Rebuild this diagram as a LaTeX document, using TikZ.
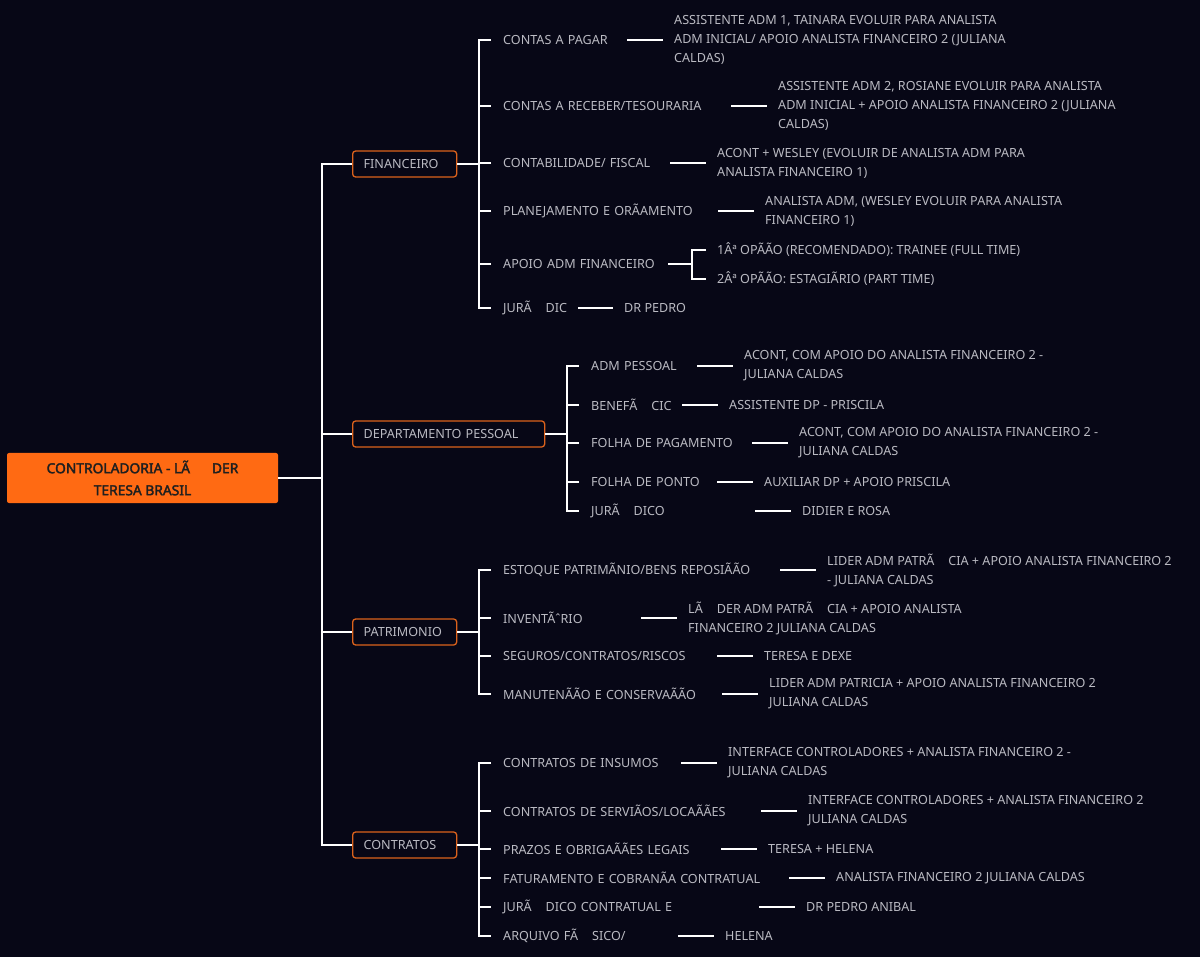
\documentclass[tikz,border=0pt]{standalone}
\usepackage{fontspec}
\setmainfont{Noto Sans}
\newfontfamily\rootfont{Noto Sans}[FakeBold=2.4]
\definecolor{bg}{HTML}{070716}
\definecolor{txt}{HTML}{BABAC2}
\definecolor{rootfill}{HTML}{FF6A13}
\definecolor{branchline}{HTML}{DC621C}
\newcommand{\gapx}{\hspace{14pt}}

\tikzset{
  link/.style={white, line width=2pt},
  rootbox/.style={fill=rootfill, rounded corners=2pt, minimum width=271pt,
    minimum height=50pt, align=center, text=black!88,
    font=\fontsize{13.8}{22}\rootfont},
  branch/.style={draw=branchline, line width=1.3pt, rounded corners=3pt,
    fill=bg, text=txt, anchor=west, inner xsep=11pt, minimum height=26pt,
    text width=#1, align=left, font=\fontsize{12.6}{19}\selectfont},
  branch/.default=82pt,
  sub/.style={anchor=west, inner xsep=12pt, inner ysep=1pt, text=txt,
    text width=#1, align=left, font=\fontsize{12.6}{19}\selectfont,
    execute at begin node=\hbox\bgroup, execute at end node=\egroup},
  leaf/.style={anchor=west, inner xsep=11pt, inner ysep=1pt, text=txt,
    align=left, font=\fontsize{12.6}{19}\selectfont},
}

\begin{document}
\begin{tikzpicture}[x=1pt, y=-1pt]
    \fill[bg] (0,0) rectangle (1200,957);
    \useasboundingbox (0,0) rectangle (1200,957);

    % root and the four branches
    \node[rootbox] (root) at (142.5,478) {CONTROLADORIA - LÃ\hspace{22pt}DER\\TERESA BRASIL};
    \node[branch] (fin) at (352,164) {FINANCEIRO};
    \node[branch=170pt] (dp) at (352,434) {DEPARTAMENTO PESSOAL};
    \node[branch] (pat) at (352,632) {PATRIMONIO};
    \node[branch] (con) at (352,845) {CONTRATOS};

    \draw[link] (root.east) -- ++(44,0) coordinate (trunk);
    \foreach \b in {fin,dp,pat,con}
        \draw[link] (\b.west) -| (trunk);

    % financeiro
    \draw[link] (fin.east) -- ++(22,0) coordinate (finhub);
    \node[sub=112pt] (f1) at (491,40) {CONTAS A PAGAR};
    \node[sub=216pt] (f2) at (491,106) {CONTAS A RECEBER/TESOURARIA};
    \node[sub=155pt] (f3) at (491,163) {CONTABILIDADE/ FISCAL};
    \node[sub=203pt] (f4) at (491,211) {PLANEJAMENTO E ORÃAMENTO};
    \node[sub=153pt] (f5) at (491,264) {APOIO ADM FINANCEIRO};
    \node[sub=63pt] (f6) at (491,308) {JURÃ\gapx DIC};
    \foreach \c in {f1,f2,f3,f4,f5,f6}
        \draw[link] (\c.west) -| (finhub);

    \node[leaf] (fl1) at (663,40) {ASSISTENTE ADM 1, TAINARA EVOLUIR PARA ANALISTA\\ADM INICIAL/ APOIO ANALISTA FINANCEIRO 2 (JULIANA\\CALDAS)};
    \node[leaf] (fl2) at (767,106) {ASSISTENTE ADM 2, ROSIANE EVOLUIR PARA ANALISTA\\ADM INICIAL + APOIO ANALISTA FINANCEIRO 2 (JULIANA\\CALDAS)};
    \node[leaf] (fl3) at (706,163) {ACONT + WESLEY (EVOLUIR DE ANALISTA ADM PARA\\ANALISTA FINANCEIRO 1)};
    \node[leaf] (fl4) at (754,211) {ANALISTA ADM, (WESLEY EVOLUIR PARA ANALISTA\\FINANCEIRO 1)};
    \node[leaf] (op1) at (706,250) {1Âª OPÃÃO (RECOMENDADO): TRAINEE (FULL TIME)};
    \node[leaf] (op2) at (706,279) {2Âª OPÃÃO: ESTAGIÃRIO (PART TIME)};
    \node[leaf] (fl6) at (613,308) {DR PEDRO};
    \draw[link] (f1.east) -- (fl1.west);
    \draw[link] (f2.east) -- (fl2.west);
    \draw[link] (f3.east) -- (fl3.west);
    \draw[link] (f4.east) -- (fl4.west);
    \draw[link] (f6.east) -- (fl6.west);
    \draw[link] (f5.east) -- ++(24,0) coordinate (apoiohub);
    \draw[link] (op1.west) -| (apoiohub);
    \draw[link] (op2.west) -| (apoiohub);

    % departamento pessoal
    \draw[link] (dp.east) -- ++(22,0) coordinate (dphub);
    \node[sub=94pt] (d1) at (579,366) {ADM PESSOAL};
    \node[sub=79pt] (d2) at (579,405) {BENEFÃ\gapx CIC};
    \node[sub=149pt] (d3) at (579,443) {FOLHA DE PAGAMENTO};
    \node[sub=114pt] (d4) at (579,482) {FOLHA DE PONTO};
    \node[sub=152pt] (d5) at (579,511) {JURÃ\gapx DICO};
    \foreach \c in {d1,d2,d3,d4,d5}
        \draw[link] (\c.west) -| (dphub);

    \node[leaf] (dl1) at (733,366) {ACONT, COM APOIO DO ANALISTA FINANCEIRO 2 -\\JULIANA CALDAS};
    \node[leaf] (dl2) at (718,405) {ASSISTENTE DP - PRISCILA};
    \node[leaf] (dl3) at (788,443) {ACONT, COM APOIO DO ANALISTA FINANCEIRO 2 -\\JULIANA CALDAS};
    \node[leaf] (dl4) at (753,482) {AUXILIAR DP + APOIO PRISCILA};
    \node[leaf] (dl5) at (791,511) {DIDIER E ROSA};
    \foreach \i in {1,...,5}
        \draw[link] (d\i.east) -- (dl\i.west);

    % patrimonio
    \draw[link] (pat.east) -- ++(22,0) coordinate (pathub);
    \node[sub=265pt] (p1) at (491,570) {ESTOQUE PATRIMÃNIO/BENS REPOSIÃÃO};
    \node[sub=126pt] (p2) at (491,618) {INVENTÃˆRIO};
    \node[sub=202pt] (p3) at (491,656) {SEGUROS/CONTRATOS/RISCOS};
    \node[sub=207pt] (p4) at (491,694) {MANUTENÃÃO E CONSERVAÃÃO};
    \foreach \c in {p1,p2,p3,p4}
        \draw[link] (\c.west) -| (pathub);

    \node[leaf] (pl1) at (816,570) {LIDER ADM PATRÃ\gapx CIA + APOIO ANALISTA FINANCEIRO 2\\- JULIANA CALDAS};
    \node[leaf] (pl2) at (677,618) {LÃ\gapx DER ADM PATRÃ\gapx CIA + APOIO ANALISTA\\FINANCEIRO 2 JULIANA CALDAS};
    \node[leaf] (pl3) at (753,656) {TERESA E DEXE};
    \node[leaf] (pl4) at (758,694) {LIDER ADM PATRICIA + APOIO ANALISTA FINANCEIRO 2\\JULIANA CALDAS};
    \foreach \i in {1,...,4}
        \draw[link] (p\i.east) -- (pl\i.west);

    % contratos
    \draw[link] (con.east) -- ++(22,0) coordinate (conhub);
    \node[sub=166pt] (c1) at (491,763) {CONTRATOS DE INSUMOS};
    \node[sub=246pt] (c2) at (491,811) {CONTRATOS DE SERVIÃOS/LOCAÃÃES};
    \node[sub=206pt] (c3) at (491,849) {PRAZOS E OBRIGAÃÃES LEGAIS};
    \node[sub=274pt] (c4) at (491,878) {FATURAMENTO E COBRANÃA CONTRATUAL};
    \node[sub=244pt] (c5) at (491,907) {JURÃ\gapx DICO CONTRATUAL E};
    \node[sub=163pt] (c6) at (491,936) {ARQUIVO FÃ\gapx SICO/};
    \foreach \c in {c1,c2,c3,c4,c5,c6}
        \draw[link] (\c.west) -| (conhub);

    \node[leaf] (cl1) at (717,763) {INTERFACE CONTROLADORES + ANALISTA FINANCEIRO 2 -\\JULIANA CALDAS};
    \node[leaf] (cl2) at (797,811) {INTERFACE CONTROLADORES + ANALISTA FINANCEIRO 2\\JULIANA CALDAS};
    \node[leaf] (cl3) at (757,849) {TERESA + HELENA};
    \node[leaf] (cl4) at (825,878) {ANALISTA FINANCEIRO 2 JULIANA CALDAS};
    \node[leaf] (cl5) at (795,907) {DR PEDRO ANIBAL};
    \node[leaf] (cl6) at (714,936) {HELENA};
    \foreach \i in {1,...,6}
        \draw[link] (c\i.east) -- (cl\i.west);
\end{tikzpicture}
\end{document}
